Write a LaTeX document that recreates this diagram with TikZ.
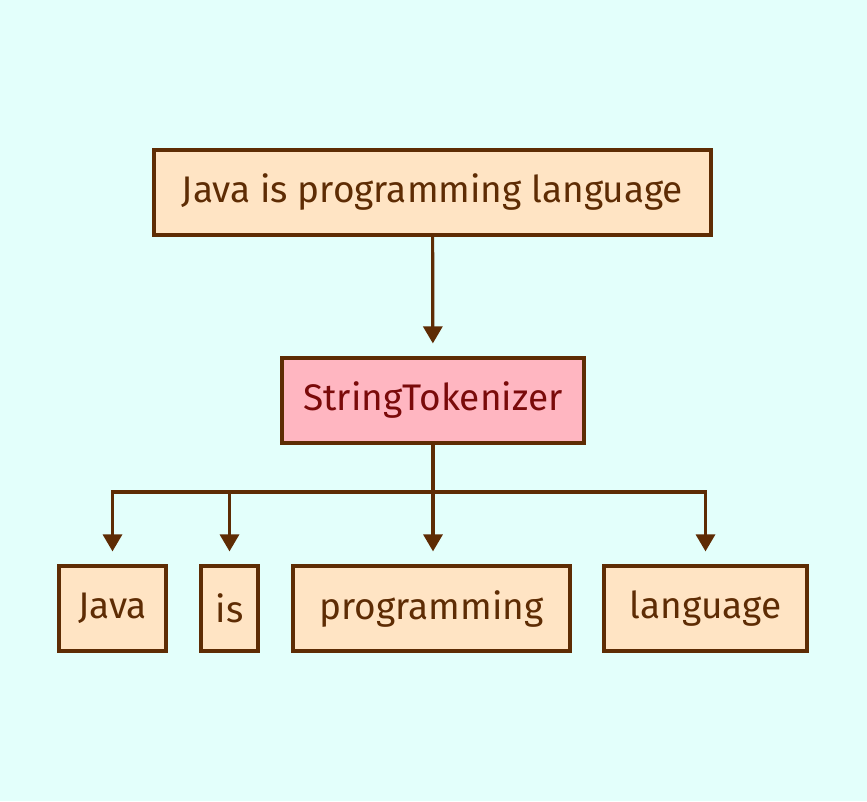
\documentclass[tikz,border=0pt]{standalone}
\usepackage{fontspec}
\setmainfont{Fira Sans}
\usetikzlibrary{positioning, calc, arrows.meta}

\definecolor{bgcyan}{HTML}{E3FFFB}
\definecolor{boxfill}{HTML}{FFE4C4}
\definecolor{boxline}{HTML}{5E2C04}
\definecolor{tokfill}{HTML}{FFB6C1}
\definecolor{toktext}{HTML}{7A0A0A}

\begin{document}
\begin{tikzpicture}[x=1pt, y=-1pt,
    box/.style={draw=boxline, line width=3.2pt, fill=boxfill, text=boxline,
        minimum height=85pt, inner sep=0pt, font=\fontsize{37}{44}\selectfont},
    tokbox/.style={box, fill=tokfill, text=toktext},
    arrow/.style={draw=boxline, line width=3.2pt, -{Triangle[length=17pt, width=19pt]}, shorten >=13pt},
    link/.style={draw=boxline, line width=3.2pt}]
    % Background and bounding box
    \fill[bgcyan] (0,0) rectangle (867,801);
    \useasboundingbox (0,0) rectangle (867,801);

    % Input string
    \node[box, minimum width=557pt] (input) at (432.5,192.5) {Java is programming language};

    % Tokenizer
    \node[tokbox, minimum width=302pt] (tok) at (433,400.5) {StringTokenizer};

    % Tokens
    \node[box, minimum width=107pt] (java) at (112.5,608.5) {Java};
    \node[box, minimum width=57pt] (is) at (229.5,608.5) {is};
    \node[box, minimum width=277pt] (prog) at (431.5,608.5) {programming};
    \node[box, minimum width=203pt] (lang) at (705.5,608.5) {language};

    % Input to tokenizer
    \draw[arrow] (input) -- (tok);

    % Bus line to tokens
    \coordinate (busL) at (112.5,492);
    \coordinate (busR) at (705.5,492);
    \draw[link] (tok.south) -- (tok.south |- busL);
    \draw[link, line cap=rect] (busL) -- (busR);
    \draw[arrow] (busL) -- (java.north);
    \draw[arrow] (is.north |- busL) -- (is.north);
    \draw[arrow] (tok.south) -- (tok.south |- prog.north);
    \draw[arrow] (busR) -- (lang.north);
\end{tikzpicture}
\end{document}
